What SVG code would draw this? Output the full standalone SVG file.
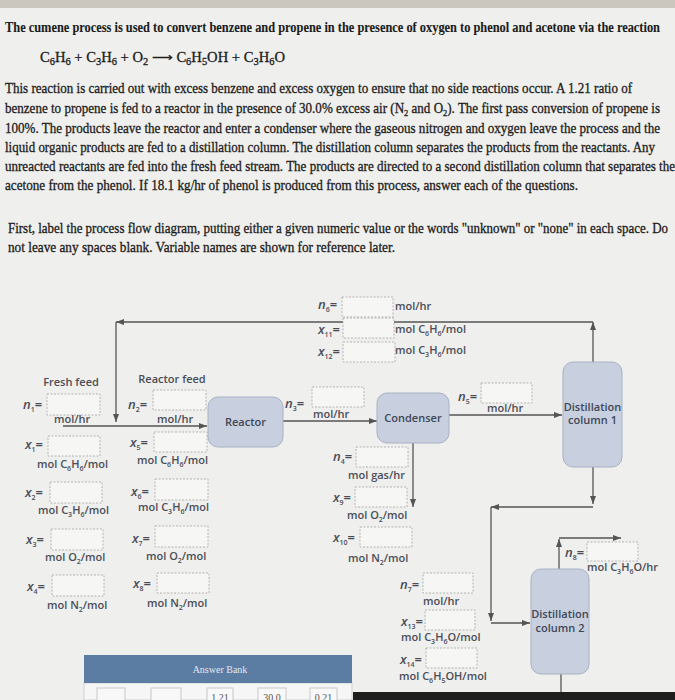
<svg xmlns="http://www.w3.org/2000/svg" width="675" height="700" viewBox="0 0 675 700">
<defs>
<style>
.t{font-family:"Liberation Serif","Times New Roman",serif;font-size:14px;fill:#1c1c1c;stroke:#1c1c1c;stroke-width:0.3}
.tb{font-weight:bold;stroke-width:0.1}
.lb{font-family:"Open Sans","Liberation Sans",sans-serif;font-size:11px;font-weight:600;fill:#4a4d57}
.v{font-family:"Open Sans","Liberation Sans",sans-serif;font-size:13px;font-weight:600;fill:#4a4d57}
.ul{font-family:"Open Sans","Liberation Sans",sans-serif;font-size:11px;font-weight:600;fill:#3f4656;text-anchor:middle}
.box{fill:#f6f6f4;stroke:#b4b4b4;stroke-width:1;stroke-dasharray:2 1.5}
.unit{fill:#c8d0df;stroke:#a8b2c4;stroke-width:1}
.cn{stroke:#555;stroke-width:1.3;fill:none}
.ab{font-family:"Liberation Serif",serif;font-size:10px;fill:#555;text-anchor:middle}
.abx{fill:#f8f8f8;stroke:#c8c8c8;stroke-width:1}
</style>
<marker id="ah" viewBox="0 0 8 6" refX="8" refY="3" markerWidth="8" markerHeight="6" markerUnits="userSpaceOnUse" orient="auto"><path d="M0,0 L8,3 L0,6 z" fill="#555"/></marker>
</defs>
<rect x="0" y="0" width="675" height="700" fill="#efefed"/>
<rect x="0" y="0" width="675" height="8" fill="#cbc6be"/>

<g id="problem-text">
<text class="t tb" x="5" y="32" font-size="13" textLength="655" lengthAdjust="spacingAndGlyphs">The cumene process is used to convert benzene and propene in the presence of oxygen to phenol and acetone via the reaction</text>
<text class="t" x="40" y="62" font-size="15" textLength="245" lengthAdjust="spacingAndGlyphs">C<tspan font-size="10" dy="3">6</tspan><tspan dy="-3">H</tspan><tspan font-size="10" dy="3">6</tspan><tspan dy="-3"> + C</tspan><tspan font-size="10" dy="3">3</tspan><tspan dy="-3">H</tspan><tspan font-size="10" dy="3">6</tspan><tspan dy="-3"> + O</tspan><tspan font-size="10" dy="3">2</tspan><tspan dy="-3"> ⟶ C</tspan><tspan font-size="10" dy="3">6</tspan><tspan dy="-3">H</tspan><tspan font-size="10" dy="3">5</tspan><tspan dy="-3">OH + C</tspan><tspan font-size="10" dy="3">3</tspan><tspan dy="-3">H</tspan><tspan font-size="10" dy="3">6</tspan><tspan dy="-3">O</tspan></text>
<text class="t" x="5" y="93" textLength="627" lengthAdjust="spacingAndGlyphs">This reaction is carried out with excess benzene and excess oxygen to ensure that no side reactions occur. A 1.21 ratio of</text>
<text class="t" x="5" y="113" textLength="655" lengthAdjust="spacingAndGlyphs">benzene to propene is fed to a reactor in the presence of 30.0% excess air (N<tspan font-size="9" dy="3">2</tspan><tspan dy="-3"> and O</tspan><tspan font-size="9" dy="3">2</tspan><tspan dy="-3">). The first pass conversion of propene is</tspan></text>
<text class="t" x="5" y="133" textLength="655" lengthAdjust="spacingAndGlyphs">100%. The products leave the reactor and enter a condenser where the gaseous nitrogen and oxygen leave the process and the</text>
<text class="t" x="5" y="152" textLength="650" lengthAdjust="spacingAndGlyphs">liquid organic products are fed to a distillation column. The distillation column separates the products from the reactants. Any</text>
<text class="t" x="5" y="171" textLength="670" lengthAdjust="spacingAndGlyphs">unreacted reactants are fed into the fresh feed stream. The products are directed to a second distillation column that separates the</text>
<text class="t" x="5" y="190" textLength="573" lengthAdjust="spacingAndGlyphs">acetone from the phenol. If 18.1 kg/hr of phenol is produced from this process, answer each of the questions.</text>
<text class="t" x="8" y="233" textLength="660" lengthAdjust="spacingAndGlyphs">First, label the process flow diagram, putting either a given numeric value or the words "unknown" or "none" in each space. Do</text>
<text class="t" x="8" y="252" textLength="387" lengthAdjust="spacingAndGlyphs">not leave any spaces blank. Variable names are shown for reference later.</text>
</g>

<g id="connectors">
<path class="cn" d="M593,362 V322" marker-end="url(#ah)"/>
<path class="cn" d="M593,322 H116" marker-end="url(#ah)"/>
<path class="cn" d="M116,322 V422" marker-end="url(#ah)"/>
<path class="cn" d="M63,426 H207" marker-end="url(#ah)"/>
<path class="cn" d="M283,421 H377" marker-end="url(#ah)"/>
<path class="cn" d="M449,415 H562" marker-end="url(#ah)"/>
<path class="cn" d="M413,443 V507" marker-end="url(#ah)"/>
<path class="cn" d="M593,467 V504" marker-end="url(#ah)"/>
<path class="cn" d="M593,507 H491" marker-end="url(#ah)"/>
<path class="cn" d="M491,507 V621" marker-end="url(#ah)"/>
<path class="cn" d="M491,623 H530" marker-end="url(#ah)"/>
<path class="cn" d="M559,569 V539" marker-end="url(#ah)"/>
<path class="cn" d="M559,538 H621" marker-end="url(#ah)"/>
<path class="cn" d="M561,674 V696"/>
</g>

<g id="reactor"><rect class="unit" x="208" y="397" width="75" height="50" rx="10"/><text class="ul" x="245.5" y="426">Reactor</text></g>
<g id="condenser"><rect class="unit" x="377" y="393" width="72" height="50" rx="10"/><text class="ul" x="413" y="422">Condenser</text></g>
<g id="distillation-1"><rect class="unit" x="563" y="362" width="59" height="105" rx="10"/><text class="ul" x="592.5" y="411">Distillation</text><text class="ul" x="592.5" y="424">column 1</text></g>
<g id="distillation-2"><rect class="unit" x="531" y="569" width="58" height="105" rx="10"/><text class="ul" x="560" y="618">Distillation</text><text class="ul" x="560" y="632">column 2</text></g>

<g id="fresh-feed">
<text class="lb" x="71" y="386" text-anchor="middle">Fresh feed</text>
<text class="v" x="23" y="409"><tspan font-style="italic">n</tspan><tspan font-size="7" dy="3">1</tspan><tspan dy="-3">=</tspan></text>
<rect class="box" x="47" y="394" width="53" height="21"/>
<text class="lb" x="54" y="423">mol/hr</text>
<text class="v" x="25" y="449"><tspan font-style="italic">x</tspan><tspan font-size="7" dy="3">1</tspan><tspan dy="-3">=</tspan></text>
<rect class="box" x="48" y="436" width="52" height="20"/>
<text class="lb" x="37" y="468">mol C<tspan font-size="7" dy="3">6</tspan><tspan dy="-3">H</tspan><tspan font-size="7" dy="3">6</tspan><tspan dy="-3">/mol</tspan></text>
<text class="v" x="25" y="497"><tspan font-style="italic">x</tspan><tspan font-size="7" dy="3">2</tspan><tspan dy="-3">=</tspan></text>
<rect class="box" x="50" y="482" width="52" height="21"/>
<text class="lb" x="38" y="514">mol C<tspan font-size="7" dy="3">3</tspan><tspan dy="-3">H</tspan><tspan font-size="7" dy="3">6</tspan><tspan dy="-3">/mol</tspan></text>
<text class="v" x="26" y="544"><tspan font-style="italic">x</tspan><tspan font-size="7" dy="3">3</tspan><tspan dy="-3">=</tspan></text>
<rect class="box" x="51" y="529" width="52" height="21"/>
<text class="lb" x="45" y="561">mol O<tspan font-size="7" dy="3">2</tspan><tspan dy="-3">/mol</tspan></text>
<text class="v" x="27" y="591"><tspan font-style="italic">x</tspan><tspan font-size="7" dy="3">4</tspan><tspan dy="-3">=</tspan></text>
<rect class="box" x="52" y="575" width="52" height="21"/>
<text class="lb" x="47" y="609">mol N<tspan font-size="7" dy="3">2</tspan><tspan dy="-3">/mol</tspan></text>
</g>

<g id="reactor-feed">
<text class="lb" x="172" y="383" text-anchor="middle">Reactor feed</text>
<text class="v" x="128" y="409"><tspan font-style="italic">n</tspan><tspan font-size="7" dy="3">2</tspan><tspan dy="-3">=</tspan></text>
<rect class="box" x="153" y="390" width="53" height="20"/>
<text class="lb" x="157" y="423">mol/hr</text>
<text class="v" x="130" y="447"><tspan font-style="italic">x</tspan><tspan font-size="7" dy="3">5</tspan><tspan dy="-3">=</tspan></text>
<rect class="box" x="154" y="432" width="53" height="20"/>
<text class="lb" x="137" y="464">mol C<tspan font-size="7" dy="3">6</tspan><tspan dy="-3">H</tspan><tspan font-size="7" dy="3">6</tspan><tspan dy="-3">/mol</tspan></text>
<text class="v" x="131" y="496"><tspan font-style="italic">x</tspan><tspan font-size="7" dy="3">6</tspan><tspan dy="-3">=</tspan></text>
<rect class="box" x="155" y="479" width="53" height="21"/>
<text class="lb" x="138" y="511">mol C<tspan font-size="7" dy="3">3</tspan><tspan dy="-3">H</tspan><tspan font-size="7" dy="3">6</tspan><tspan dy="-3">/mol</tspan></text>
<text class="v" x="132" y="543"><tspan font-style="italic">x</tspan><tspan font-size="7" dy="3">7</tspan><tspan dy="-3">=</tspan></text>
<rect class="box" x="155" y="526" width="53" height="21"/>
<text class="lb" x="146" y="560">mol O<tspan font-size="7" dy="3">2</tspan><tspan dy="-3">/mol</tspan></text>
<text class="v" x="133" y="588"><tspan font-style="italic">x</tspan><tspan font-size="7" dy="3">8</tspan><tspan dy="-3">=</tspan></text>
<rect class="box" x="157" y="573" width="52" height="20"/>
<text class="lb" x="147" y="607">mol N<tspan font-size="7" dy="3">2</tspan><tspan dy="-3">/mol</tspan></text>
</g>

<g id="stream-3">
<text class="v" x="285" y="408"><tspan font-style="italic">n</tspan><tspan font-size="7" dy="3">3</tspan><tspan dy="-3">=</tspan></text>
<rect class="box" x="312" y="387" width="52" height="20"/>
<text class="lb" x="313" y="418">mol/hr</text>
</g>

<g id="recycle-stream">
<text class="v" x="318" y="309"><tspan font-style="italic">n</tspan><tspan font-size="7" dy="3">6</tspan><tspan dy="-3">=</tspan></text>
<rect class="box" x="342" y="297" width="51" height="20"/>
<text class="lb" x="395" y="310">mol/hr</text>
<text class="v" x="318" y="334"><tspan font-style="italic">x</tspan><tspan font-size="7" dy="3">11</tspan><tspan dy="-3">=</tspan></text>
<rect class="box" x="343" y="318" width="51" height="20"/>
<text class="lb" x="395" y="333">mol C<tspan font-size="7" dy="3">6</tspan><tspan dy="-3">H</tspan><tspan font-size="7" dy="3">6</tspan><tspan dy="-3">/mol</tspan></text>
<text class="v" x="318" y="356"><tspan font-style="italic">x</tspan><tspan font-size="7" dy="3">12</tspan><tspan dy="-3">=</tspan></text>
<rect class="box" x="343" y="342" width="52" height="20"/>
<text class="lb" x="395" y="354">mol C<tspan font-size="7" dy="3">3</tspan><tspan dy="-3">H</tspan><tspan font-size="7" dy="3">6</tspan><tspan dy="-3">/mol</tspan></text>
</g>

<g id="stream-5">
<text class="v" x="458" y="401"><tspan font-style="italic">n</tspan><tspan font-size="7" dy="3">5</tspan><tspan dy="-3">=</tspan></text>
<rect class="box" x="481" y="383" width="51" height="20"/>
<text class="lb" x="487" y="412">mol/hr</text>
</g>

<g id="gas-stream">
<text class="v" x="333" y="461"><tspan font-style="italic">n</tspan><tspan font-size="7" dy="3">4</tspan><tspan dy="-3">=</tspan></text>
<rect class="box" x="356" y="447" width="52" height="20"/>
<text class="lb" x="348" y="479">mol gas/hr</text>
<text class="v" x="333" y="502"><tspan font-style="italic">x</tspan><tspan font-size="7" dy="3">9</tspan><tspan dy="-3">=</tspan></text>
<rect class="box" x="355" y="487" width="52" height="20"/>
<text class="lb" x="347" y="519">mol O<tspan font-size="7" dy="3">2</tspan><tspan dy="-3">/mol</tspan></text>
<text class="v" x="333" y="542"><tspan font-style="italic">x</tspan><tspan font-size="7" dy="3">10</tspan><tspan dy="-3">=</tspan></text>
<rect class="box" x="360" y="527" width="52" height="20"/>
<text class="lb" x="348" y="562">mol N<tspan font-size="7" dy="3">2</tspan><tspan dy="-3">/mol</tspan></text>
</g>

<g id="product-stream">
<text class="v" x="400" y="589"><tspan font-style="italic">n</tspan><tspan font-size="7" dy="3">7</tspan><tspan dy="-3">=</tspan></text>
<rect class="box" x="423" y="573" width="50" height="20"/>
<text class="lb" x="423" y="605">mol/hr</text>
<text class="v" x="401" y="626"><tspan font-style="italic">x</tspan><tspan font-size="7" dy="3">13</tspan><tspan dy="-3">=</tspan></text>
<rect class="box" x="425" y="610" width="50" height="20"/>
<text class="lb" x="401" y="641">mol C<tspan font-size="7" dy="3">3</tspan><tspan dy="-3">H</tspan><tspan font-size="7" dy="3">6</tspan><tspan dy="-3">O/mol</tspan></text>
<text class="v" x="400" y="664"><tspan font-style="italic">x</tspan><tspan font-size="7" dy="3">14</tspan><tspan dy="-3">=</tspan></text>
<rect class="box" x="426" y="648" width="51" height="20"/>
<text class="lb" x="399" y="680">mol C<tspan font-size="7" dy="3">6</tspan><tspan dy="-3">H</tspan><tspan font-size="7" dy="3">5</tspan><tspan dy="-3">OH/mol</tspan></text>
</g>

<g id="acetone-stream">
<text class="v" x="565" y="557"><tspan font-style="italic">n</tspan><tspan font-size="7" dy="3">8</tspan><tspan dy="-3">=</tspan></text>
<rect class="box" x="587" y="542" width="51" height="19"/>
<text class="lb" x="587" y="571">mol C<tspan font-size="7" dy="3">3</tspan><tspan dy="-3">H</tspan><tspan font-size="7" dy="3">6</tspan><tspan dy="-3">O/hr</tspan></text>
</g>

<g id="answer-bank">
<rect x="84" y="683" width="268" height="17" fill="#f6f6f6" stroke="#d0d0d0"/>
<rect x="84" y="655" width="268" height="28" fill="#5b7ca3"/>
<text x="220" y="673" font-family="Liberation Serif,serif" font-size="10" fill="#e4e8ef" text-anchor="middle">Answer Bank</text>
<rect class="abx" x="97" y="688" width="28" height="14"/>
<rect class="abx" x="151" y="688" width="30" height="14"/>
<rect class="abx" x="207" y="688" width="26" height="14"/><text class="ab" x="220" y="701">1.21</text>
<rect class="abx" x="258" y="688" width="28" height="14"/><text class="ab" x="272" y="701">30.0</text>
<rect class="abx" x="310" y="688" width="27" height="14"/><text class="ab" x="323.5" y="701">0.21</text>
</g>
<rect x="353" y="692" width="322" height="8" fill="#1e1e1e"/>
</svg>
